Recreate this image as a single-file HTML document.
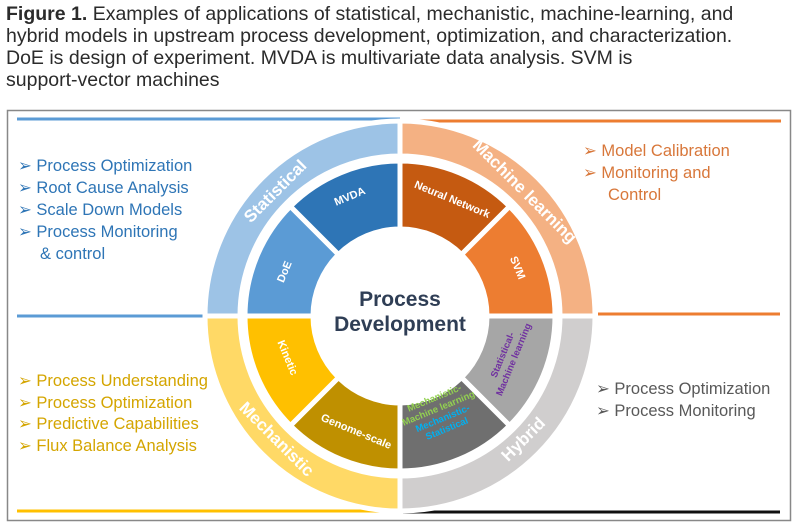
<!DOCTYPE html>
<html><head><meta charset="utf-8"><style>
body{margin:0;background:#fff;width:800px;height:530px;overflow:hidden;font-family:"Liberation Sans",sans-serif;}
.hdr{position:absolute;left:6px;top:3px;font-size:19.5px;line-height:22px;color:#2b2b2b;width:800px;white-space:nowrap;}
</style></head><body>
<div class="hdr"><b>Figure 1.</b> Examples of applications of statistical, mechanistic, machine-learning, and<br>hybrid models in upstream process development, optimization, and characterization.<br>DoE is design of experiment. MVDA is multivariate data analysis. SVM is<br>support-vector machines</div>
<svg width="800" height="530" style="position:absolute;left:0;top:0" font-family="Liberation Sans, sans-serif">
<rect x="7.5" y="110.5" width="783" height="410" fill="none" stroke="#888" stroke-width="1.5"/>
<line x1="17" y1="119" x2="400" y2="119" stroke="#5b9bd5" stroke-width="3"/>
<line x1="403" y1="121" x2="781" y2="121" stroke="#ed7d31" stroke-width="3"/>
<line x1="17" y1="316" x2="205" y2="316" stroke="#5b9bd5" stroke-width="3"/>
<line x1="598" y1="314" x2="780" y2="314" stroke="#ed7d31" stroke-width="3"/>
<line x1="17" y1="511" x2="400" y2="511" stroke="#ffc000" stroke-width="3"/>
<line x1="403" y1="512" x2="780" y2="512" stroke="#111" stroke-width="3"/>
<g stroke="#fff" stroke-width="5">
<path d="M205 316 A195 195 0 0 1 400 121 L400 156 A160 160 0 0 0 240 316 Z" fill="#9dc3e6"/>
<path d="M400 121 A195 195 0 0 1 595 316 L560 316 A160 160 0 0 0 400 156 Z" fill="#f4b183"/>
<path d="M595 316 A195 195 0 0 1 400 511 L400 476 A160 160 0 0 0 560 316 Z" fill="#d0cece"/>
<path d="M400 511 A195 195 0 0 1 205 316 L240 316 A160 160 0 0 0 400 476 Z" fill="#ffd966"/>
<path d="M245 316 A155 155 0 0 1 290.4 206.4 L338.5 254.5 A87 87 0 0 0 313 316 Z" fill="#5b9bd5"/>
<path d="M290.4 206.4 A155 155 0 0 1 400 161 L400 229 A87 87 0 0 0 338.5 254.5 Z" fill="#2e75b6"/>
<path d="M400 161 A155 155 0 0 1 509.6 206.4 L461.5 254.5 A87 87 0 0 0 400 229 Z" fill="#c55a11"/>
<path d="M509.6 206.4 A155 155 0 0 1 555 316 L487 316 A87 87 0 0 0 461.5 254.5 Z" fill="#ed7d31"/>
<path d="M555 316 A155 155 0 0 1 509.6 425.6 L461.5 377.5 A87 87 0 0 0 487 316 Z" fill="#a6a6a6"/>
<path d="M509.6 425.6 A155 155 0 0 1 400 471 L400 403 A87 87 0 0 0 461.5 377.5 Z" fill="#6f6f6f"/>
<path d="M400 471 A155 155 0 0 1 290.4 425.6 L338.5 377.5 A87 87 0 0 0 400 403 Z" fill="#bf9000"/>
<path d="M290.4 425.6 A155 155 0 0 1 245 316 L313 316 A87 87 0 0 0 338.5 377.5 Z" fill="#ffc000"/>
</g>
<g fill="#fff" font-weight="bold" font-size="17" text-anchor="middle" dominant-baseline="middle">
<text transform="translate(276,192) rotate(-45)">Statistical</text>
<text transform="translate(524,192) rotate(45)">Machine learning</text>
<text transform="translate(276,440) rotate(45)">Mechanistic</text>
<text transform="translate(524,440) rotate(-45)">Hybrid</text>
</g>
<g fill="#fff" font-weight="bold" font-size="11" text-anchor="middle" dominant-baseline="middle">
<text transform="translate(285,272) rotate(-67.5)">DoE</text>
<text transform="translate(350,197) rotate(-22.5)">MVDA</text>
<text transform="translate(452,200) rotate(22.5)">Neural Network</text>
<text transform="translate(517,268) rotate(67.5)">SVM</text>
<text transform="translate(287,358) rotate(67.5)">Kinetic</text>
<text transform="translate(356,432) rotate(22.5)">Genome-scale</text>
</g>
<g font-weight="bold" font-size="9.5" text-anchor="middle">
<text transform="translate(510,358) rotate(-67.5)" fill="#7030a0"><tspan x="0" y="-5">Statistical-</tspan><tspan x="0" y="7">Machine learning</tspan></text>
<g transform="translate(440,412) rotate(-22.5)">
<text fill="#92d050" y="-12">Mechanistic-</text><text fill="#92d050" y="-1">Machine learning</text>
<text fill="#00b0f0" y="10">Mechanistic-</text><text fill="#00b0f0" y="21">Statistical</text></g>
</g>
<g fill="#2f3e55" font-weight="bold" font-size="21" text-anchor="middle">
<text x="400" y="306">Process</text><text x="400" y="331">Development</text>
</g>
<g font-size="16.5">
<g fill="#2e75b6"><text x="18" y="171">➢ Process Optimization</text><text x="18" y="193">➢ Root Cause Analysis</text><text x="18" y="215">➢ Scale Down Models</text><text x="18" y="237">➢ Process Monitoring</text><text x="40" y="259">&amp; control</text></g>
<g fill="#d8773a"><text x="583" y="156">➢ Model Calibration</text><text x="583" y="178">➢ Monitoring and</text><text x="608" y="200">Control</text></g>
<g fill="#d4a500"><text x="18" y="386">➢ Process Understanding</text><text x="18" y="408">➢ Process Optimization</text><text x="18" y="429">➢ Predictive Capabilities</text><text x="18" y="451">➢ Flux Balance Analysis</text></g>
<g fill="#595959"><text x="596" y="394">➢ Process Optimization</text><text x="596" y="416">➢ Process Monitoring</text></g>
</g>
</svg>
</body></html>
